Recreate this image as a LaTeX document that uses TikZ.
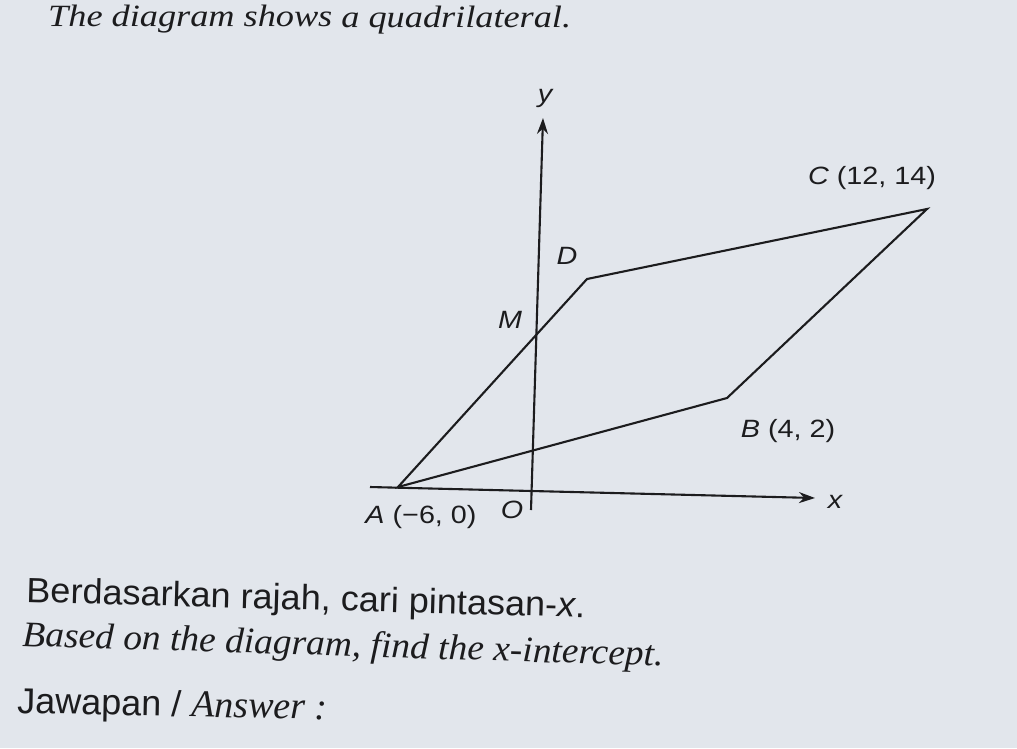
\documentclass[tikz,border=0pt]{standalone}
\usepackage{fontspec}
\setmainfont{Liberation Serif}
\setsansfont{Liberation Sans}
\usetikzlibrary{arrows.meta}
\definecolor{paper}{HTML}{E2E6EC}
\definecolor{ink}{HTML}{1C1C1E}
\begin{document}
\begin{tikzpicture}[x=1pt,y=-1pt,
  ln/.style={draw=ink,line width=2.1pt,line join=miter},
  axis/.style={draw=ink,line width=2.1pt,-{Stealth[length=16pt,width=11pt]}},
  lbl/.style={text=ink,font=\sffamily\fontsize{25}{28}\selectfont,inner sep=0pt},
  para/.style={text=ink,inner sep=0pt,anchor=base west}]
\fill[paper] (0,0) rectangle (1017,748);
\useasboundingbox (0,0) rectangle (1017,748);
% title
\node[para,font=\rmfamily\itshape\fontsize{31}{34}\selectfont,rotate=-0.2] (title) at (48,26) {\scalebox{1.17}[1]{The diagram shows a quadrilateral.}};
% points
\coordinate (A) at (398,487);
\coordinate (B) at (727,398);
\coordinate (C) at (927,209);
\coordinate (D) at (587,279);
\coordinate (M) at (536,335);
\coordinate (O) at (530,491);
\coordinate (xs) at (370,487);
\coordinate (xe) at (815,498);
\coordinate (ys) at (531,510);
\coordinate (ye) at (543,118);
% axes
\draw[axis] (xs) -- (xe);
\draw[axis] (ys) -- (ye);
% quadrilateral
\draw[ln] (A) -- (B) -- (C) -- (D) -- cycle;
% labels
\node[lbl] (ly) at (545,98) {\scalebox{1.15}[1]{\itshape y}};
\node[lbl] (lx) at (835,502) {\scalebox{1.15}[1]{\itshape x}};
\node[lbl] (lC) at (872,178) {\scalebox{1.15}[1]{\itshape C\upshape\ (12, 14)}};
\node[lbl] (lD) at (567,256) {\scalebox{1.15}[1]{\itshape D}};
\node[lbl] (lM) at (510,320) {\scalebox{1.15}[1]{\itshape M}};
\node[lbl] (lB) at (788,431) {\scalebox{1.15}[1]{\itshape B\upshape\ (4, 2)}};
\node[lbl] (lA) at (421,517) {\scalebox{1.15}[1]{\itshape A\upshape\ (−6, 0)}};
\node[lbl] (lO) at (512,510) {\scalebox{1.15}[1]{\itshape O}};
% question text
\node[para,font=\sffamily\fontsize{35}{38}\selectfont,rotate=-1.6] (q1) at (26,602) {\scalebox{1.03}[1]{Berdasarkan rajah, cari pintasan-\textit{x}.}};
\node[para,font=\rmfamily\itshape\fontsize{36}{39}\selectfont,rotate=-1.8] (q2) at (22,646) {\scalebox{1.04}[1]{Based on the diagram, find the x-intercept.}};
\node[para,font=\sffamily\fontsize{36}{40}\selectfont,rotate=-1.2] (q3) at (17,713) {Jawapan / {\rmfamily\itshape\fontsize{38}{42}\selectfont Answer :}};
\end{tikzpicture}
\end{document}
